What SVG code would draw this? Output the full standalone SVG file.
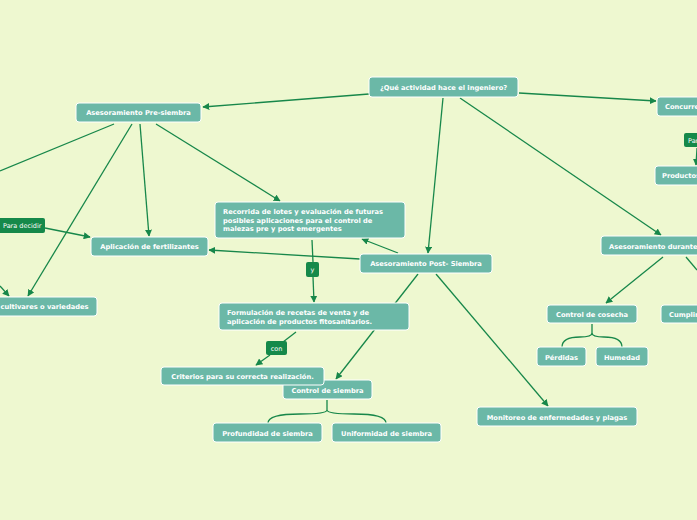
<svg xmlns="http://www.w3.org/2000/svg" width="697" height="520" viewBox="0 0 697 520">
<defs>
<marker id="a" viewBox="0 0 10 10" refX="9" refY="5" markerWidth="7" markerHeight="7" orient="auto" markerUnits="userSpaceOnUse"><path d="M0,0L10,5L0,10z" fill="#17874a"/></marker>
<style>
.n{fill:#6bb8a7;stroke:#fff;stroke-width:1}
.t{font-family:"DejaVu Sans",Verdana,sans-serif;font-weight:bold;font-size:6.7px;fill:#fff}
.l{fill:#15894a}
.lt{font-family:"DejaVu Sans",sans-serif;font-size:6.5px;fill:#fff}
.c{stroke:#17874a;stroke-width:1.3;fill:none}
.c.m{marker-end:url(#a)}
</style>
</defs>
<rect width="697" height="520" fill="#eef8d0"/>
<g id="connectors">
<path class="c m" d="M369,94L203,107"/>
<path class="c m" d="M519,93L656,101"/>
<path class="c m" d="M443,98L428,253"/>
<path class="c m" d="M460,98L661,235"/>
<path class="c" d="M114,124L0,171"/>
<path class="c m" d="M132,124L28,296"/>
<path class="c m" d="M140,124L149,236"/>
<path class="c m" d="M156,124L280,201"/>
<path class="c m" d="M45,228L90,237"/>
<path class="c m" d="M0,286L9,296"/>
<path class="c m" d="M398,253L362,239"/>
<path class="c m" d="M360,259L209,250"/>
<path class="c" d="M312,240L313,262"/>
<path class="c m" d="M313,277L314,302"/>
<path class="c m" d="M418,274L336,379"/>
<path class="c m" d="M436,274L548,406"/>
<path class="c" d="M296,332L283,342"/>
<path class="c m" d="M270,355L256,365"/>
<path class="c m" d="M663,257L606,303"/>
<path class="c" d="M686,257L697,270"/>
<path class="c m" d="M697,148L696,165"/>
<path class="c" d="M592,324V333Q592,337 580,337Q562,337 562,347M592,333Q592,337 604,337Q622,337 622,347"/>
<path class="c" d="M327,400V410Q327,414 300,414Q268,414 268,423M327,410Q327,414 354,414Q386,414 386,423"/>
</g>
<g id="root"><rect class="n" x="369" y="77" width="149" height="20" rx="3"/><text class="t" x="443.5" y="89.5" text-anchor="middle">¿Qué actividad hace el ingeniero?</text></g>
<g id="pre"><rect class="n" x="76" y="103" width="125" height="19" rx="3"/><text class="t" x="138.5" y="115" text-anchor="middle">Asesoramiento Pre-siembra</text></g>
<g id="concurr"><rect class="n" x="657" y="97" width="50" height="19" rx="3"/><text class="t" x="665" y="109">Concurrencia</text></g>
<g id="pa"><rect class="l" x="684" y="133" width="20" height="14" rx="2"/><text class="lt" x="688" y="142.5">Para</text></g>
<g id="producto"><rect class="n" x="655" y="166" width="50" height="19" rx="3"/><text class="t" x="662" y="178">Productos</text></g>
<g id="recorrida"><rect class="n" x="215" y="202" width="190" height="36" rx="3"/><text class="t" x="223" y="214">Recorrida de lotes y evaluación de futuras</text><text class="t" x="223" y="222.5">posibles aplicaciones para el control de</text><text class="t" x="223" y="231">malezas pre y post emergentes</text></g>
<g id="fert"><rect class="n" x="91" y="237" width="117" height="19" rx="3"/><text class="t" x="149.5" y="249" text-anchor="middle">Aplicación de fertilizantes</text></g>
<g id="post"><rect class="n" x="360" y="254" width="132" height="19" rx="3"/><text class="t" x="426" y="266" text-anchor="middle">Asesoramiento Post- Siembra</text></g>
<g id="decidir"><rect class="l" x="-3" y="218" width="48" height="15" rx="2"/><text class="lt" x="3" y="228">Para decidir</text></g>
<g id="cultivares"><rect class="n" x="-8" y="297" width="105" height="19" rx="3"/><text class="t" x="44.5" y="309" text-anchor="middle">cultivares o variedades</text></g>
<g id="y"><rect class="l" x="306" y="262" width="13" height="15" rx="2"/><text class="lt" x="312.5" y="272" text-anchor="middle">y</text></g>
<g id="formulacion"><rect class="n" x="219" y="303" width="190" height="27" rx="3"/><text class="t" x="227" y="314.5">Formulación de recetas de venta y de</text><text class="t" x="227" y="323.5">aplicación de productos fitosanitarios.</text></g>
<g id="con"><rect class="l" x="266" y="341" width="21" height="14" rx="2"/><text class="lt" x="276.5" y="350.5" text-anchor="middle">con</text></g>
<g id="csiembra"><rect class="n" x="283" y="380" width="89" height="19" rx="3"/><text class="t" x="327.5" y="393" text-anchor="middle">Control de siembra</text></g>
<g id="criterios"><rect class="n" x="161" y="367" width="163" height="18" rx="3"/><text class="t" x="242.5" y="379" text-anchor="middle">Criterios para su correcta realización.</text></g>
<g id="profundidad"><rect class="n" x="213" y="423" width="109" height="19" rx="3"/><text class="t" x="267.5" y="435.5" text-anchor="middle">Profundidad de siembra</text></g>
<g id="uniformidad"><rect class="n" x="332" y="423" width="109" height="19" rx="3"/><text class="t" x="386.5" y="435.5" text-anchor="middle">Uniformidad de siembra</text></g>
<g id="monitoreo"><rect class="n" x="477" y="407" width="160" height="19" rx="3"/><text class="t" x="557" y="419.5" text-anchor="middle">Monitoreo de enfermedades y plagas</text></g>
<g id="durante"><rect class="n" x="601" y="236" width="110" height="19" rx="3"/><text class="t" x="609" y="248.5">Asesoramiento durante</text></g>
<g id="cosecha"><rect class="n" x="547" y="305" width="90" height="18" rx="3"/><text class="t" x="592" y="317" text-anchor="middle">Control de cosecha</text></g>
<g id="cumpli"><rect class="n" x="661" y="305" width="50" height="18" rx="3"/><text class="t" x="669" y="317">Cumplimiento</text></g>
<g id="perdidas"><rect class="n" x="537" y="347" width="49" height="19" rx="3"/><text class="t" x="561.5" y="359.5" text-anchor="middle">Pérdidas</text></g>
<g id="humedad"><rect class="n" x="596" y="347" width="52" height="19" rx="3"/><text class="t" x="622" y="359.5" text-anchor="middle">Humedad</text></g>
</svg>
